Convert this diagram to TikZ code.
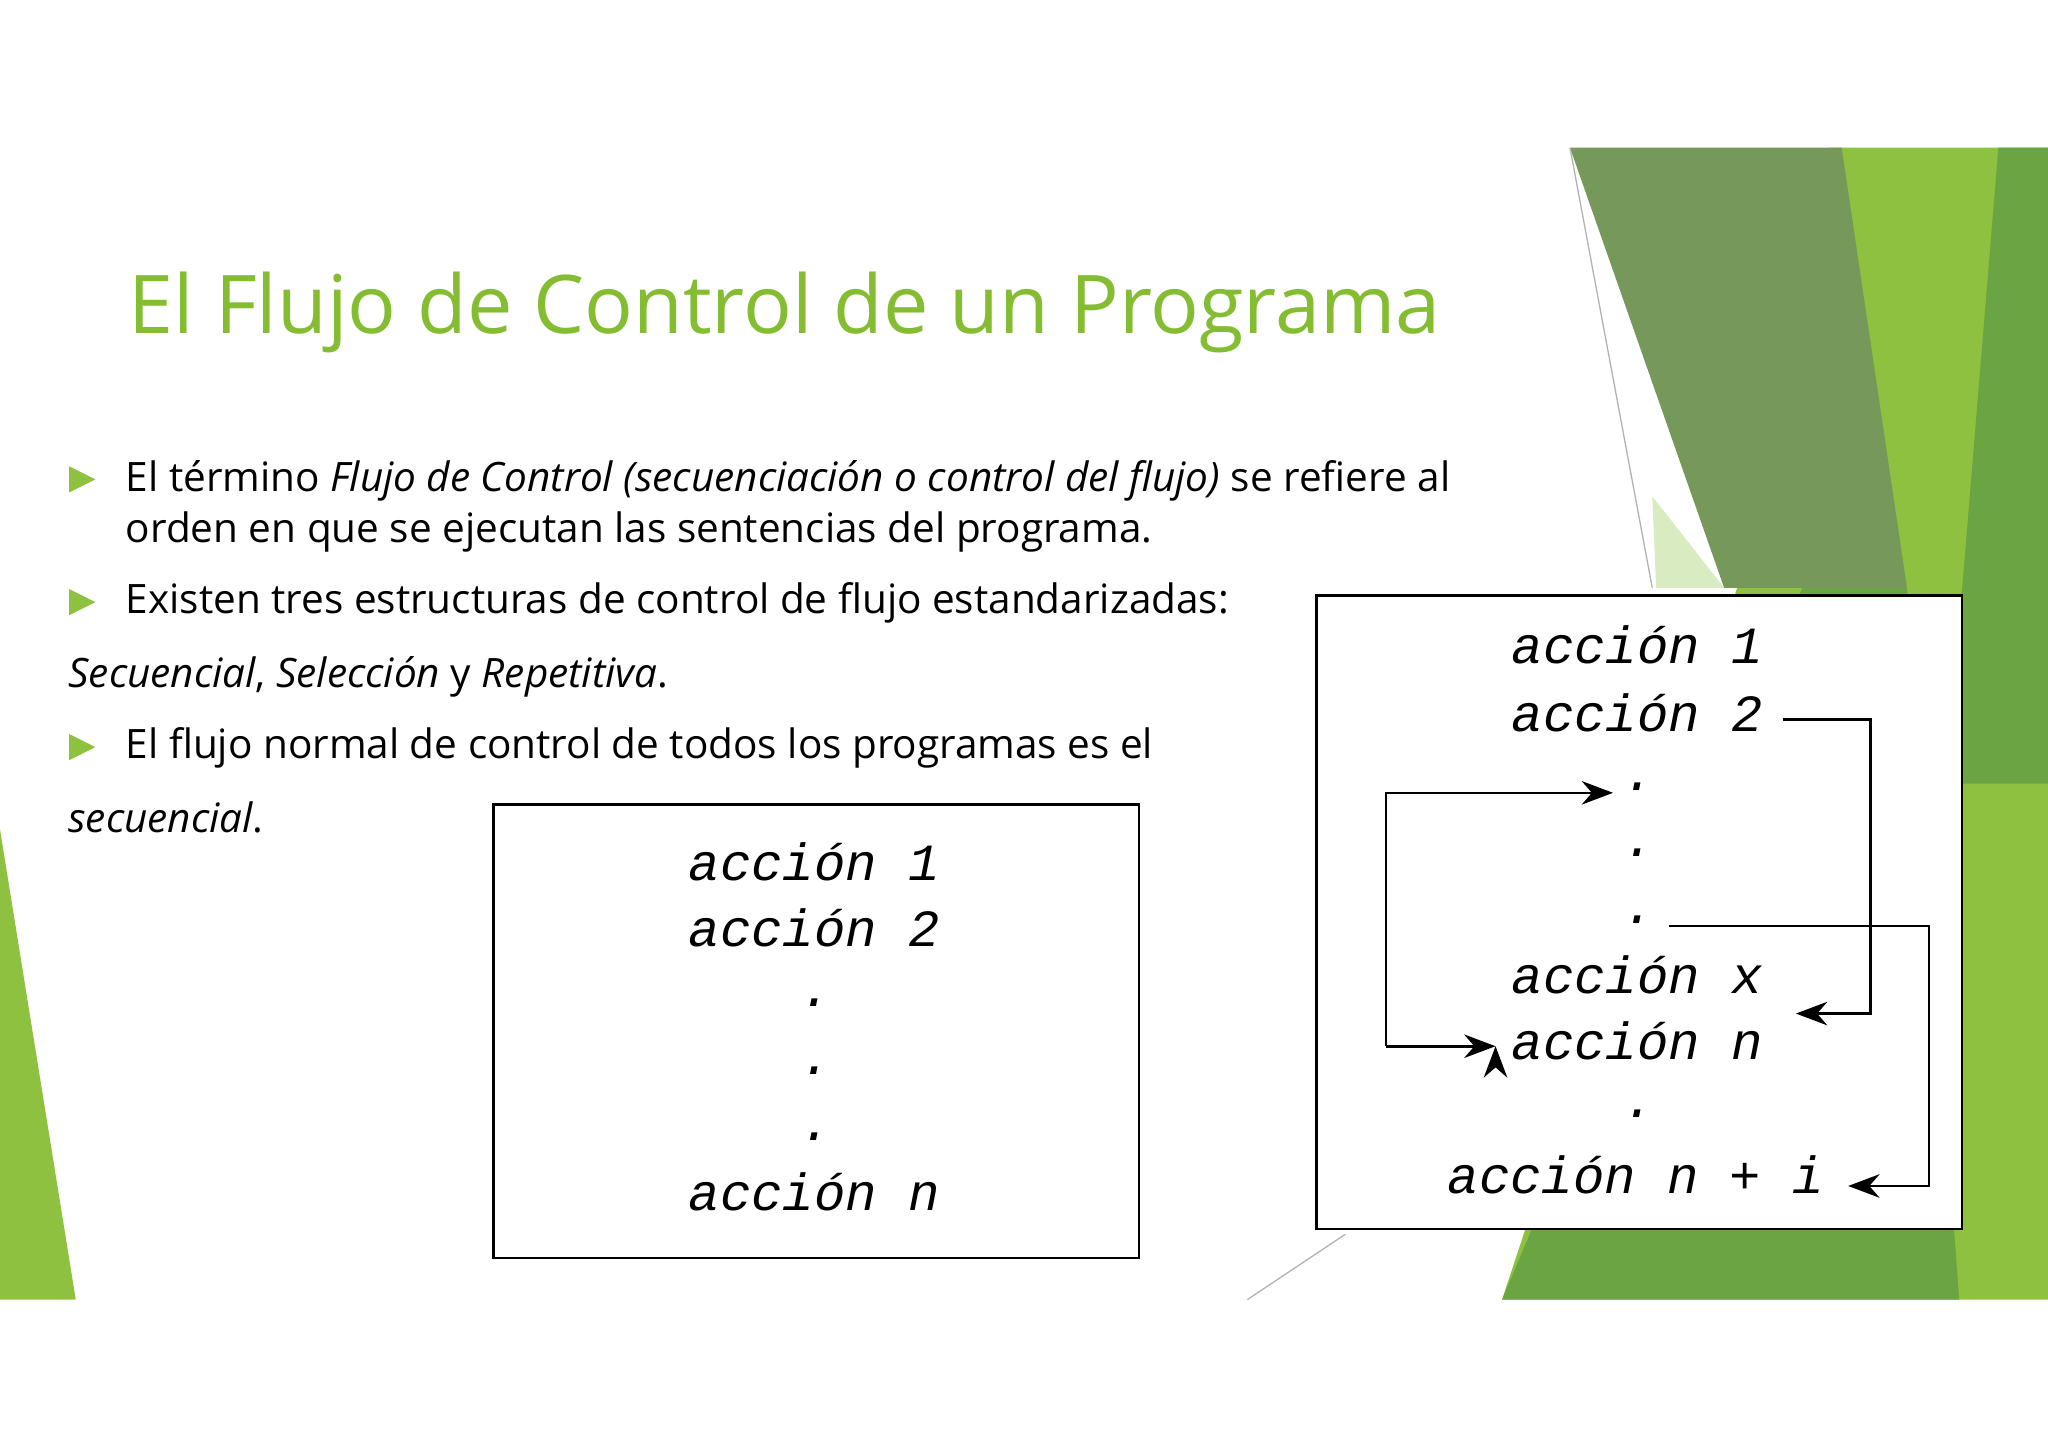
\documentclass[tikz,border=0pt]{standalone}
\usepackage{fontspec}
\setmainfont{Open Sans}
\newfontfamily\boxfont{Liberation Mono}
\usetikzlibrary{arrows.meta}
\definecolor{gA}{HTML}{8DC13F}
\definecolor{gB}{HTML}{76985A}
\definecolor{gC}{HTML}{6BA443}
\definecolor{gD}{HTML}{D9EBC0}
\definecolor{titleg}{HTML}{84BD32}
\tikzset{
 body/.style={anchor=base west,inner sep=0,font=\fontsize{15.5}{18}\selectfont},
 mono/.style={inner sep=0,font=\boxfont\itshape\fontsize{20}{22}\selectfont},
 frame/.style={draw,line width=1pt},
 conn/.style={line width=1pt,-{Stealth[length=12pt,width=9pt]}},
 bul/.style={fill=gA}
}
\begin{document}
\begin{tikzpicture}[x=0.5pt,y=-0.5pt]
\useasboundingbox (0,0) rectangle (1568,1109);
% background shapes
\fill[gA] (1400,113)--(1568,113)--(1568,995)--(1150,995)--(1330,450)--cycle;
\fill[gC] (1380,450)--(1460,450)--(1500,995)--(1150,995)--cycle;
\fill[gB] (1202,113)--(1410,113)--(1460,450)--(1320,450)--cycle;
\fill[gC] (1530,113)--(1568,113)--(1568,600)--(1490,600)--cycle;
\fill[gD] (1265,380)--(1320,450)--(1268,450)--cycle;
\draw[gray!60,line width=0.5pt] (1202,113)--(1265,450);
\draw[gray!60,line width=0.5pt] (955,995)--(1030,945);
\fill[gA] (0,635)--(58,995)--(0,995)--cycle;
% title
\node[anchor=base west,inner sep=0,text=titleg,font=\fontsize{31}{36}\selectfont] (title) at (98,255) {El Flujo de Control de un Programa};
% bullets
\foreach \y/\n in {367/b1,461/b2,572/b3}
  \fill[bul] (53,\y-10)--(73,\y)--(53,\y+10)--cycle;
\node[body] (t1) at (96,376) {El término \textit{Flujo de Control (secuenciación o control del flujo)} se refiere al};
\node[body] (t2) at (96,415) {orden en que se ejecutan las sentencias del programa.};
\node[body] (t3) at (96,470) {Existen tres estructuras de control de flujo estandarizadas:};
\node[body] (t4) at (52,526) {\textit{Secuencial}, \textit{Selección} y \textit{Repetitiva}.};
\node[body] (t5) at (96,581) {El flujo normal de control de todos los programas es el};
\node[body] (t6) at (52,637) {\textit{secuencial}.};
% left box
\draw[frame] (378,616) rectangle (872,963);
\node[mono,anchor=base west] (l1) at (527,674) {acción 1};
\node[mono,anchor=base west] (l2) at (527,725) {acción 2};
\node[mono] (ld1) at (625,768) {.};
\node[mono] (ld2) at (625,820) {.};
\node[mono] (ld3) at (625,870) {.};
\node[mono,anchor=base west] (ln) at (527,927) {acción n};
% right box
\draw[frame,fill=white] (1008,456) rectangle (1502,941);
\node[mono,anchor=base west] (r1) at (1157,508) {acción 1};
\node[mono,anchor=base west] (r2) at (1157,560) {acción 2};
\node[mono] (rd1) at (1255,602) {.};
\node[mono] (rd2) at (1255,653) {.};
\node[mono] (rd3) at (1255,704) {.};
\node[mono,anchor=base west] (rx) at (1157,761) {acción x};
\node[mono,anchor=base west] (rn) at (1157,811) {acción n};
\node[mono] (rd4) at (1255,853) {.};
\node[mono,anchor=base west] (ri) at (1108,914) {acción n + i};
\coordinate (a2e) at (1365,551);
\coordinate (axe) at (1375,776);
\coordinate (ans) at (1145,801);
\coordinate (d1w) at (1235,607);
\coordinate (d3e) at (1278,709);
\coordinate (aie) at (1415,908);
\draw[conn] (a2e) -- (1432,551) -- (1432,776) -- (axe);
\draw[conn] (ans) ++(0,0) coordinate (tmp);
\draw[conn] (1061,801) -- (ans);
\draw[conn] (1061,801) -- (1061,607) -- (d1w);
\draw[conn] (d3e) -- (1477,709) -- (1477,908) -- (aie);
\end{tikzpicture}
\end{document}
